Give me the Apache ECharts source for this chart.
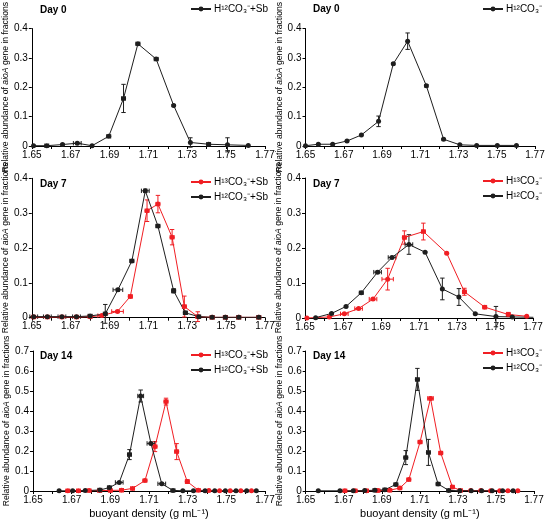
<!DOCTYPE html>
<html><head><meta charset="utf-8">
<script src="https://cdn.jsdelivr.net/npm/echarts@6/dist/echarts.min.js"></script>
<style>html,body{margin:0;padding:0;background:#fff}#c{width:553px;height:524px}</style>
</head><body><div id="c"></div>
<script>
// ---------- data ----------
const xMin = 1.65, xMax = 1.77, xStep = 0.01;
const yMaxTop = 0.4, yMaxBottom = 0.7, yStep = 0.1;
const dayLabels = ['Day 0', 'Day 0', 'Day 7', 'Day 7', 'Day 14', 'Day 14'];
const nameSb13 = 'H¹³CO₃⁻+Sb', nameSb12 = 'H¹²CO₃⁻+Sb', name13 = 'H¹³CO₃⁻', name12 = 'H¹²CO₃⁻';
const xAxisTitle = 'buoyant density (g mL⁻¹)';
const yAxisTitle = 'Relative abundance of {i|aioA} gene in fractions';

// Day 0, H12CO3- + Sb
const d0sb12_x  = [1.6509, 1.6577, 1.6658, 1.6734, 1.681, 1.6896, 1.6972, 1.7046, 1.714, 1.723, 1.7316, 1.741, 1.7507, 1.7614];
const d0sb12_y  = [0.001, 0.001, 0.005, 0.0095, 0.001, 0.033, 0.162, 0.348, 0.296, 0.138, 0.012, 0.006, 0.004, 0.002];
const d0sb12_ey = [0, 0, 0.002, 0.003, 0, 0.003, 0.048, 0.003, 0.003, 0.003, 0.016, 0.003, 0.024, 0];
const d0sb12_ex = [0, 0.001, 0, 0.002, 0, 0.001, 0.001, 0.001, 0.001, 0, 0, 0.001, 0, 0];
// Day 0, H12CO3-
const d012_x  = [1.65, 1.6567, 1.6642, 1.6717, 1.6792, 1.6882, 1.6959, 1.7034, 1.7132, 1.7222, 1.7307, 1.7395, 1.7503, 1.7603];
const d012_y  = [0.001, 0.006, 0.006, 0.017, 0.0375, 0.084, 0.28, 0.357, 0.205, 0.023, 0.004, 0.002, 0.002, 0.002];
const d012_ey = [0, 0.002, 0.002, 0.002, 0.002, 0.018, 0.003, 0.028, 0.004, 0.003, 0, 0, 0, 0];
const d012_ex = [0, 0, 0, 0, 0, 0, 0, 0, 0, 0, 0, 0, 0, 0];
// Day 7, H13CO3- + Sb
const d7sb13_x  = [1.651, 1.658, 1.6655, 1.673, 1.680, 1.686, 1.6941, 1.7007, 1.7093, 1.7149, 1.7222, 1.7285, 1.7354, 1.7428, 1.7496, 1.7565, 1.7668];
const d7sb13_y  = [0.002, 0.002, 0.002, 0.002, 0.003, 0.006, 0.018, 0.061, 0.307, 0.326, 0.231, 0.032, 0.003, 0.001, 0.001, 0.001, 0.001];
const d7sb13_ey = [0.001, 0.001, 0.001, 0.001, 0.002, 0.003, 0.003, 0.004, 0.031, 0.025, 0.022, 0.030, 0.014, 0.001, 0.001, 0.001, 0.001];
const d7sb13_ex = [0.001, 0.001, 0.001, 0.001, 0.001, 0.002, 0.003, 0.001, 0.001, 0.001, 0.001, 0.001, 0.001, 0.001, 0.001, 0.001, 0.001];
// Day 7, H12CO3- + Sb
const d7sb12_x  = [1.651, 1.658, 1.6655, 1.673, 1.680, 1.6878, 1.6943, 1.7015, 1.7084, 1.7149, 1.723, 1.729, 1.7359, 1.7428, 1.7496, 1.7565, 1.7668];
const d7sb12_y  = [0.003, 0.003, 0.003, 0.003, 0.005, 0.011, 0.080, 0.163, 0.364, 0.263, 0.077, 0.014, 0.003, 0.001, 0.001, 0.001, 0.001];
const d7sb12_ey = [0.002, 0.002, 0.002, 0.002, 0.003, 0.027, 0.004, 0.004, 0.005, 0.004, 0.006, 0.004, 0.002, 0.001, 0.001, 0.001, 0.001];
const d7sb12_ex = [0.002, 0.002, 0.002, 0.002, 0.001, 0.001, 0.0025, 0.001, 0.002, 0.001, 0.001, 0.001, 0.001, 0.001, 0.001, 0.001, 0.001];
// Day 7, H13CO3-
const d713_x  = [1.651, 1.6628, 1.6707, 1.6782, 1.6858, 1.6935, 1.7023, 1.7123, 1.7246, 1.7339, 1.7446, 1.757, 1.7667];
const d713_y  = [0.0, 0.003, 0.012, 0.027, 0.054, 0.111, 0.230, 0.247, 0.185, 0.075, 0.031, 0.010, 0.005];
const d713_ey = [0, 0.001, 0.002, 0.003, 0.003, 0.031, 0.019, 0.024, 0.002, 0.01, 0.002, 0.006, 0.002];
const d713_ex = [0, 0, 0.002, 0.002, 0.002, 0.003, 0.001, 0.001, 0, 0.001, 0.001, 0.001, 0];
// Day 7, H12CO3-
const d712_x  = [1.6556, 1.664, 1.6716, 1.6796, 1.6882, 1.6958, 1.7047, 1.7132, 1.7223, 1.731, 1.7396, 1.7505, 1.7591, 1.7702];
const d712_y  = [0.001, 0.013, 0.033, 0.072, 0.131, 0.173, 0.210, 0.188, 0.083, 0.060, 0.012, 0.004, 0.003, 0.002];
const d712_ey = [0, 0.002, 0.002, 0.003, 0.003, 0.003, 0.028, 0.002, 0.031, 0.024, 0.002, 0.029, 0.002, 0];
const d712_ex = [0, 0, 0, 0.001, 0.002, 0.002, 0.002, 0, 0, 0, 0, 0, 0, 0];
// Day 14, H13CO3- + Sb
const d14sb13_x  = [1.668, 1.6735, 1.679, 1.6845, 1.690, 1.6958, 1.7015, 1.7079, 1.7131, 1.7188, 1.7243, 1.7298, 1.7355, 1.741, 1.7465, 1.752, 1.7575, 1.763];
const d14sb13_y  = [0.001, 0.001, 0.002, 0.002, 0.003, 0.004, 0.013, 0.052, 0.222, 0.447, 0.197, 0.047, 0.004, 0.002, 0.001, 0.001, 0.001, 0.001];
const d14sb13_ey = [0, 0, 0, 0, 0, 0, 0.002, 0.003, 0.025, 0.017, 0.04, 0.009, 0.002, 0, 0, 0, 0, 0];
const d14sb13_ex = [0.001, 0.001, 0.001, 0.001, 0.001, 0.001, 0.001, 0.001, 0.001, 0.001, 0.001, 0.001, 0.001, 0, 0, 0, 0, 0];
// Day 14, H12CO3- + Sb
const d14sb12_x  = [1.6635, 1.6705, 1.677, 1.6846, 1.6895, 1.6946, 1.6999, 1.7057, 1.711, 1.7166, 1.7224, 1.7275, 1.733, 1.739, 1.744, 1.7495, 1.755, 1.7605, 1.7655];
const d14sb12_y  = [0.001, 0.001, 0.002, 0.005, 0.017, 0.043, 0.182, 0.475, 0.238, 0.036, 0.003, 0.001, 0.001, 0.001, 0.001, 0.001, 0.001, 0.001, 0.001];
const d14sb12_ey = [0, 0, 0, 0.002, 0.003, 0.004, 0.025, 0.03, 0.006, 0.004, 0.002, 0, 0, 0, 0, 0, 0, 0, 0];
const d14sb12_ex = [0, 0, 0, 0.001, 0.001, 0.002, 0.001, 0.0015, 0.002, 0.002, 0.001, 0, 0, 0, 0, 0, 0, 0, 0];
// Day 14, H13CO3-
const d1413_x  = [1.6706, 1.676, 1.682, 1.688, 1.6942, 1.6995, 1.7042, 1.7101, 1.7156, 1.721, 1.7271, 1.7313, 1.7367, 1.742, 1.7472, 1.752, 1.7563, 1.7615];
const d1413_y  = [0.001, 0.001, 0.001, 0.002, 0.004, 0.015, 0.057, 0.245, 0.463, 0.190, 0.020, 0.003, 0.002, 0.002, 0.001, 0.001, 0.001, 0.001];
const d1413_ey = [0, 0, 0, 0, 0.001, 0.003, 0.004, 0.006, 0.008, 0.007, 0.004, 0.002, 0, 0, 0, 0, 0, 0];
const d1413_ex = [0.001, 0.001, 0.001, 0.001, 0.001, 0.001, 0.001, 0.001, 0.0015, 0.001, 0.001, 0.001, 0, 0, 0, 0, 0, 0];
// Day 14, H12CO3-
const d1412_x  = [1.6566, 1.668, 1.675, 1.681, 1.6864, 1.6916, 1.6974, 1.7026, 1.7087, 1.7145, 1.7196, 1.7252, 1.731, 1.737, 1.7425, 1.748, 1.7535, 1.759];
const d1412_y  = [0.001, 0.001, 0.001, 0.002, 0.004, 0.006, 0.033, 0.167, 0.558, 0.193, 0.035, 0.003, 0.001, 0.001, 0.001, 0.001, 0.001, 0.001];
const d1412_ey = [0, 0, 0, 0, 0.001, 0.002, 0.003, 0.035, 0.055, 0.065, 0.006, 0.002, 0, 0, 0, 0, 0, 0];
const d1412_ex = [0, 0, 0, 0, 0.001, 0.001, 0.001, 0.001, 0.001, 0.001, 0.001, 0.001, 0, 0, 0, 0, 0, 0];

// ---------- chart ----------
const RED = '#f01e23', BLACK = '#1e1e1e';
const FONT = 'Liberation Sans, Arial, sans-serif';
const grids = [
  {left: 31.5, top: 6, width: 233.5, height: 140},
  {left: 305.5, top: 7, width: 229.5, height: 139},
  {left: 31.7, top: 178.3, width: 233.3, height: 139.4},
  {left: 305, top: 178, width: 228, height: 140},
  {left: 33, top: 351, width: 232, height: 140},
  {left: 305.7, top: 351, width: 228.3, height: 140}
];
const yMaxes = [yMaxTop, yMaxTop, yMaxTop, yMaxTop, yMaxBottom, yMaxBottom];

const zip = (xs, ys) => xs.map((x, i) => [x, ys[i]]);
const zipErr = (xs, ys, exs, eys) => xs.map((x, i) => [x, ys[i], exs[i], eys[i]]);

function errRender(params, api) {
  const x = api.value(0), y = api.value(1), ex = api.value(2), ey = api.value(3);
  const color = api.visual('color');
  const st = {stroke: color, lineWidth: 1};
  const ch = [];
  const cap = 2.2;
  if (ey > 0) {
    const a = api.coord([x, y + ey]), b = api.coord([x, y - ey]);
    ch.push({type: 'line', shape: {x1: a[0], y1: a[1], x2: b[0], y2: b[1]}, style: st});
    ch.push({type: 'line', shape: {x1: a[0] - cap, y1: a[1], x2: a[0] + cap, y2: a[1]}, style: st});
    ch.push({type: 'line', shape: {x1: b[0] - cap, y1: b[1], x2: b[0] + cap, y2: b[1]}, style: st});
  }
  if (ex > 0) {
    const a = api.coord([x - ex, y]), b = api.coord([x + ex, y]);
    ch.push({type: 'line', shape: {x1: a[0], y1: a[1], x2: b[0], y2: b[1]}, style: st});
    ch.push({type: 'line', shape: {x1: a[0], y1: a[1] - cap, x2: a[0], y2: a[1] + cap}, style: st});
    ch.push({type: 'line', shape: {x1: b[0], y1: b[1] - cap, x2: b[0], y2: b[1] + cap}, style: st});
  }
  return {type: 'group', children: ch};
}

const seriesDefs = [
  {id: 'a12', grid: 0, label: nameSb12, color: BLACK, x: d0sb12_x, y: d0sb12_y, ex: d0sb12_ex, ey: d0sb12_ey},
  {id: 'b12', grid: 1, label: name12, color: BLACK, x: d012_x, y: d012_y, ex: d012_ex, ey: d012_ey},
  {id: 'c13', grid: 2, label: nameSb13, color: RED, x: d7sb13_x, y: d7sb13_y, ex: d7sb13_ex, ey: d7sb13_ey},
  {id: 'c12', grid: 2, label: nameSb12, color: BLACK, x: d7sb12_x, y: d7sb12_y, ex: d7sb12_ex, ey: d7sb12_ey},
  {id: 'd13', grid: 3, label: name13, color: RED, x: d713_x, y: d713_y, ex: d713_ex, ey: d713_ey},
  {id: 'd12', grid: 3, label: name12, color: BLACK, x: d712_x, y: d712_y, ex: d712_ex, ey: d712_ey},
  {id: 'e13', grid: 4, label: nameSb13, color: RED, x: d14sb13_x, y: d14sb13_y, ex: d14sb13_ex, ey: d14sb13_ey},
  {id: 'e12', grid: 4, label: nameSb12, color: BLACK, x: d14sb12_x, y: d14sb12_y, ex: d14sb12_ex, ey: d14sb12_ey},
  {id: 'f13', grid: 5, label: name13, color: RED, x: d1413_x, y: d1413_y, ex: d1413_ex, ey: d1413_ey},
  {id: 'f12', grid: 5, label: name12, color: BLACK, x: d1412_x, y: d1412_y, ex: d1412_ex, ey: d1412_ey}
];
const labelOf = {};
seriesDefs.forEach(s => labelOf[s.id] = s.label);

const series = [];
seriesDefs.forEach(s => {
  series.push({
    type: 'custom', name: s.id + '_err', xAxisIndex: s.grid, yAxisIndex: s.grid,
    renderItem: errRender, itemStyle: {color: s.color}, encode: {x: 0, y: 1},
    data: zipErr(s.x, s.y, s.ex, s.ey), z: 2, clip: false, silent: true
  });
  series.push({
    type: 'line', name: s.id, xAxisIndex: s.grid, yAxisIndex: s.grid,
    data: zip(s.x, s.y), symbol: 'circle', symbolSize: 5, showSymbol: true,
    lineStyle: {color: s.color, width: 1}, itemStyle: {color: s.color}, z: 3, animation: false
  });
});

const xAxes = grids.map((g, i) => ({
  type: 'value', gridIndex: i, min: xMin, max: xMax, interval: xStep,
  splitLine: {show: false},
  axisLine: {lineStyle: {color: '#000', width: 1}},
  axisTick: {inside: false, length: 3, lineStyle: {color: '#000'}},
  axisLabel: {
    color: '#000', fontSize: 10, fontFamily: FONT, margin: 4, showMinLabel: true, showMaxLabel: true,
    formatter: v => (Math.round(v * 100) % 2 === 1 ? v.toFixed(2) : '')
  },
  name: i >= 4 ? xAxisTitle : '', nameLocation: 'middle', nameGap: 17,
  nameTextStyle: {color: '#000', fontSize: 11, fontFamily: FONT}
}));
const yAxes = grids.map((g, i) => ({
  type: 'value', gridIndex: i, min: 0, max: yMaxes[i], interval: yStep,
  splitLine: {show: false},
  axisLine: {show: true, lineStyle: {color: '#000', width: 1}},
  axisTick: {show: true, inside: false, length: 3, lineStyle: {color: '#000'}},
  axisLabel: {color: '#000', fontSize: 10, fontFamily: FONT, margin: 4},
  name: yAxisTitle, nameLocation: 'middle', nameGap: 15, nameRotate: 90,
  nameTextStyle: {color: '#000', fontSize: 8.6, fontFamily: FONT, rich: {i: {fontStyle: 'italic', fontSize: 8.6, fontFamily: FONT, color: '#000'}}}
}));

const dayPos = [[40, 5], [313, 4], [40, 179], [313, 179], [40, 351], [313, 351]];
const titles = dayLabels.map((t, i) => ({
  text: t, left: dayPos[i][0], top: dayPos[i][1], padding: 0,
  textStyle: {fontSize: 10, fontWeight: 'bold', color: '#000', fontFamily: FONT}
}));

const legendSets = [
  {ids: ['a12'], left: 190, top: 4},
  {ids: ['b12'], left: 482, top: 4},
  {ids: ['c13', 'c12'], left: 190, top: 177},
  {ids: ['d13', 'd12'], left: 482, top: 176},
  {ids: ['e13', 'e12'], left: 190, top: 350},
  {ids: ['f13', 'f12'], left: 482, top: 348}
];
const legends = legendSets.map(l => ({
  data: l.ids, left: l.left, top: l.top, orient: 'vertical', padding: 0, itemGap: 5,
  itemWidth: 20, itemHeight: 6, selectedMode: false,
  formatter: n => labelOf[n],
  textStyle: {fontSize: 10, color: '#000', fontFamily: FONT, padding: [0, 0, 0, -2]}
}));

const chart = echarts.init(document.getElementById('c'), null, {renderer: 'canvas'});
chart.setOption({
  animation: false, backgroundColor: '#fff',
  title: titles, legend: legends, grid: grids, xAxis: xAxes, yAxis: yAxes, series: series
});
</script></body></html>
